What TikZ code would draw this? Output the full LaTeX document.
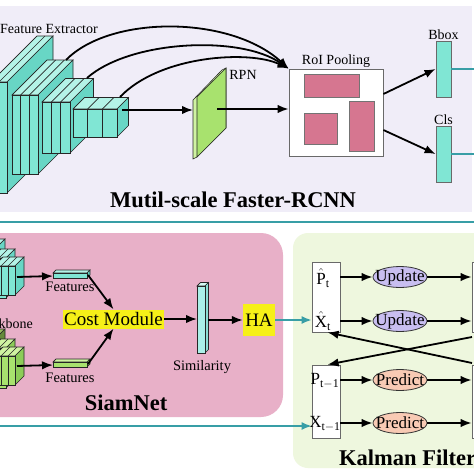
\documentclass[tikz,border=0pt]{standalone}
\usepackage{fontspec}
\setmainfont{Liberation Serif}
\usetikzlibrary{arrows.meta,shapes.geometric}
\definecolor{panelbg}{RGB}{240,237,248}
\definecolor{cyfront}{RGB}{128,230,212}
\definecolor{cytop}{RGB}{180,243,231}
\definecolor{cyside}{RGB}{104,214,197}
\definecolor{grfront}{RGB}{168,226,110}
\definecolor{grtop}{RGB}{208,243,162}
\definecolor{grside}{RGB}{140,204,88}
\definecolor{olfront}{RGB}{118,156,70}
\definecolor{oltop}{RGB}{150,186,96}
\definecolor{olside}{RGB}{100,138,58}
\definecolor{smfront}{RGB}{170,240,232}
\definecolor{smtop}{RGB}{214,250,244}
\definecolor{smside}{RGB}{140,222,212}
\definecolor{tealline}{RGB}{56,158,166}
\definecolor{siampink}{RGB}{232,176,200}
\definecolor{kalgreen}{RGB}{238,247,222}
\definecolor{roipink}{RGB}{214,118,144}
\definecolor{updfill}{RGB}{200,190,240}
\definecolor{prdfill}{RGB}{248,202,180}
\definecolor{hlyellow}{RGB}{246,240,24}
\definecolor{edgegray}{RGB}{105,105,105}
% stack of slabs: x0, y0, width, height, number, depth, colour prefix
\newcommand{\slabs}[7]{%
\filldraw[fill=#7top,draw=black!85,line width=.6pt] (#1,#2) -- ++(#6,-#6) -- ++(#3,0) -- ++(-#6,#6) -- cycle;
\filldraw[fill=#7side,draw=black!85,line width=.6pt] ({#1+#3},#2) -- ++(#6,-#6) -- ++(0,#4) -- ++(-#6,#6) -- cycle;
\foreach \s in {1,...,#5}{
\filldraw[fill=#7front,draw=black!85,line width=.6pt] ({#1+(\s-1)*#3/#5},#2) rectangle ({#1+\s*#3/#5},{#2+#4});
\draw[black!85,line width=.6pt] ({#1+(\s-1)*#3/#5},#2) -- ++(#6,-#6);}}
\begin{document}
\begin{tikzpicture}[x=1pt,y=-1pt,
arr/.style={-{Latex[length=11pt,width=8.5pt]},line width=1.8pt},
tarr/.style={-{Latex[length=10pt,width=8pt]},line width=1.6pt,tealline},
tline/.style={line width=1.8pt,tealline},
lbl/.style={inner sep=1pt,font=\fontsize{14}{16}\selectfont},
lbls/.style={inner sep=1pt,font=\fontsize{14.5}{16}\selectfont},
title/.style={inner sep=1pt,font=\bfseries\fontsize{22.5}{25}\selectfont},
hl/.style={fill=hlyellow,inner sep=0pt,font=\fontsize{19}{21}\selectfont},
bar/.style={draw=edgegray,fill=cyfront,line width=.8pt,inner sep=0pt,minimum width=15pt,minimum height=56pt},
kbox/.style={draw=edgegray,fill=white,line width=.8pt,inner sep=0pt,minimum width=28pt},
klbl/.style={inner sep=0pt,font=\fontsize{17}{19}\selectfont},
upd/.style={ellipse,draw=black!80,line width=.8pt,fill=updfill,minimum width=54pt,minimum height=21pt,inner xsep=-8pt,inner ysep=-2pt,font=\fontsize{17}{19}\selectfont},
prd/.style={upd,fill=prdfill}]
\fill[white] (0,0) rectangle (474,474);
\useasboundingbox (0,0) rectangle (474,474);
% Faster-RCNN
\fill[panelbg] (0,6) rectangle (472,212);
\node[lbl,anchor=west] (fe) at (-1,29) {Feature Extractor};
\slabs{-9}{82}{16}{111}{2}{46}{cy}
\slabs{12}{95}{26}{79}{3}{35}{cy}
\slabs{42}{102}{28}{51}{3}{23.5}{cy}
\slabs{73}{109}{44}{28}{3}{11.5}{cy}
\coordinate (c2) at (66,60); \coordinate (c3) at (87,78); \coordinate (c4) at (120,97);
\coordinate (b4out) at (122,110);
% RPN
\filldraw[fill=grtop,draw=black!85,line width=.6pt] (193,100) -- (222,70) -- (226,68) -- (226,128) -- (197,157) -- (193,159) -- cycle;
\filldraw[fill=grfront,draw=black!85,line width=.6pt] (197,97) -- (226,68) -- (226,128) -- (197,157) -- cycle;
\coordinate (rpnin) at (193,110); \coordinate (rpnout) at (217,109);
\node[lbl] (rpnl) at (243,75) {RPN};
% RoI pooling
\node[draw=edgegray,fill=white,line width=.8pt,inner sep=0pt,minimum width=94pt,minimum height=87pt] (roi) at (336,112.5) {};
\foreach \a/\b/\c/\d in {304/74/359/97,304/113/337/144,349/101/374/151}
\filldraw[fill=roipink,draw=black!55,line width=.6pt] (\a,\b) rectangle (\c,\d);
\node[lbl,above] at (roi.north) {RoI Pooling};
\node[bar] (bbox) at (443.5,69) {};
\node[lbl,above] at (bbox.north) {Bbox};
\node[bar] (cls) at (443.5,154) {};
\node[lbl,above] at (cls.north) {Cls};
\coordinate (bboxout) at (474,69); \coordinate (clsout) at (474,154);
\draw[arr] (c2) .. controls (110,15) and (230,15) .. (roi.north west);
\draw[arr] (c3) .. controls (130,40) and (240,35) .. (roi.north west);
\draw[arr] (c4) .. controls (160,55) and (250,50) .. (roi.north west);
\draw[arr] (b4out) -- (rpnin);
\draw[arr] (rpnout) -- (roi.west |- rpnout);
\draw[arr] ([yshift=18.5pt]roi.east) -- (bbox.west);
\draw[arr] ([yshift=-17.5pt]roi.east) -- (cls.west);
\draw[tline] (bbox.east) -- (bboxout);
\draw[tline] (cls.east) -- (clsout);
\node[title] at (233,200) {Mutil-scale Faster-RCNN};
\draw[tline] (0,222) -- (474,222);
% SiamNet
\fill[siampink,rounded corners=22pt] (-30,233) rectangle (283,417);
\slabs{-25}{247}{22}{53}{2}{8}{cy}
\slabs{-15}{258}{21}{40}{3}{9}{cy}
\slabs{-6}{266}{21}{29}{3}{9}{cy}
\slabs{-25}{337}{22}{53}{2}{8}{ol}
\slabs{-15}{348}{21}{40}{3}{9}{gr}
\slabs{-6}{356}{21}{29}{3}{9}{gr}
\node[lbl,anchor=east] at (34,324) {Backbone};
\slabs{53}{273}{34}{5}{1}{3}{cy}
\slabs{53}{362}{34}{5}{1}{3}{gr}
\node[lbls] at (70,287) {Features};
\node[lbls] at (70,378) {Features};
\coordinate (bb1) at (17,277); \coordinate (f1in) at (53,276); \coordinate (f1out) at (88,275);
\coordinate (bb2) at (17,366); \coordinate (f2in) at (53,365); \coordinate (f2out) at (88,364);
\node[hl,minimum width=101pt,minimum height=19pt] (cost) at (113.5,319) {Cost Module};
\draw[arr] (bb1) -- (f1in);
\draw[arr] (bb2) -- (f2in);
\draw[arr] (f1out) -- (cost.north);
\draw[arr] (f2out) -- (cost.south);
\slabs{197}{286}{8}{67}{1}{3.5}{sm}
\coordinate (simin) at (197,319); \coordinate (simout) at (208,320);
\node[lbls] at (202,367) {Similarity};
\node[hl,minimum width=32pt,minimum height=32pt] (ha) at (259,320) {HA};
\draw[arr] (cost.east) -- (simin);
\draw[arr] (simout) -- (ha.west);
\node[title] at (126,403) {SiamNet};
% Kalman filter
\fill[kalgreen,rounded corners=15pt] (293,233) rectangle (510,468);
\node[kbox,minimum height=70pt] (kt) at (326,297) {};
\node[kbox,minimum height=73pt] (kl) at (326,401.5) {};
\node[kbox,minimum height=70pt] (kr1) at (486,297) {};
\node[kbox,minimum height=73pt] (kr2) at (486,401.5) {};
\node[klbl] (pht) at (323,278) {$\hat{\mathrm{P}}_{\mathrm{t}}$};
\node[klbl] (xht) at (323,321) {$\hat{\mathrm{X}}_{\mathrm{t}}$};
\node[klbl] (ptm) at (325,381) {$\mathrm{P}_{\mathrm{t-1}}$};
\node[klbl] (xtm) at (325,424) {$\mathrm{X}_{\mathrm{t-1}}$};
\node[upd] (u1) at (400,277) {Update};
\node[upd] (u2) at (400,321) {Update};
\node[prd] (p1) at (400,380) {Predict};
\node[prd] (p2) at (400,423) {Predict};
\foreach \e/\r/\w in {u1/kt/kr1,u2/kt/kr1,p1/kl/kr2,p2/kl/kr2}{
\draw[arr] (\r.east |- \e) -- (\e);
\draw[arr] (\e) -- (\w.west |- \e);}
\coordinate (xa) at (472,337); \coordinate (xb) at (472,363);
\draw[arr] (xa) -- ([xshift=16pt]kl.north west);
\draw[arr] (xb) -- ([xshift=16pt]kt.south west);
\coordinate (trk) at (0,426);
\draw[tarr] (ha.east) -- (kt.west |- ha.east);
\draw[tarr] (trk) -- (kl.west |- trk);
\node[title,anchor=west] at (338,458) {Kalman Filter};
\end{tikzpicture}
\end{document}
